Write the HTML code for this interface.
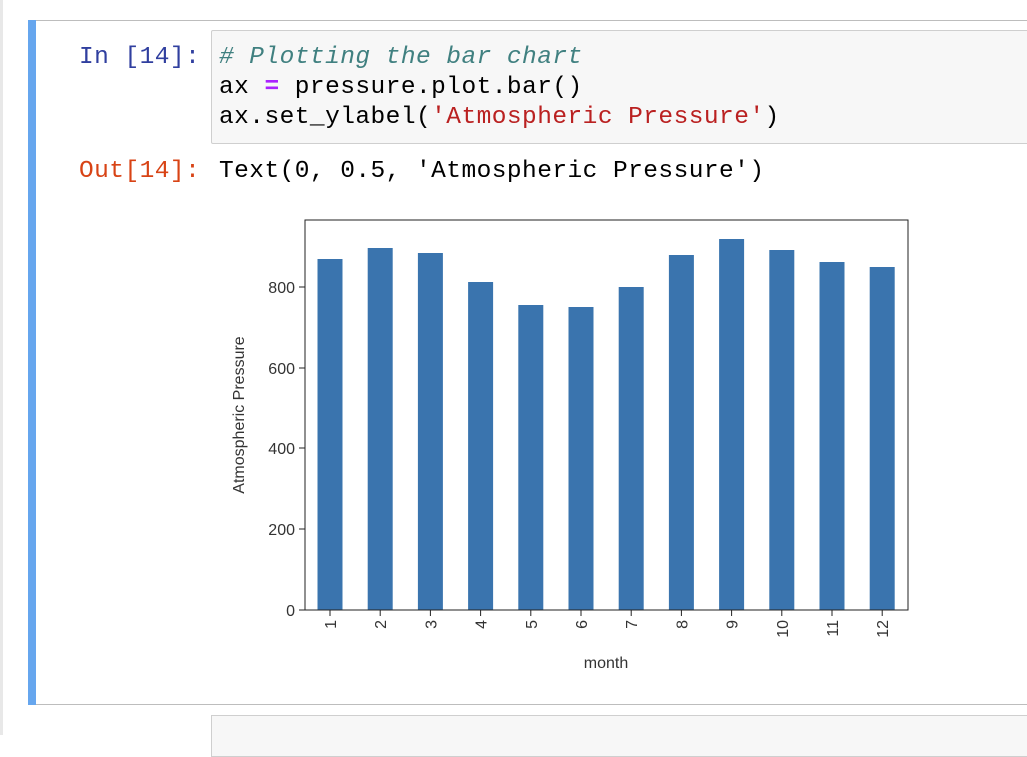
<!DOCTYPE html>
<html><head><meta charset="utf-8"><style>
body{margin:0;width:1027px;height:735px;background:#fff;position:relative;overflow:hidden;font-family:"Liberation Mono",monospace;}
.abs{position:absolute;white-space:pre;}
.code{font-size:24.5px;line-height:30px;letter-spacing:0.45px;}
</style></head><body>
<div class="abs" style="left:0;top:0;width:3px;height:735px;background:#e8e8e8"></div>
<div class="abs" style="left:28px;top:20px;width:1000px;height:1px;background:#bdbdbd"></div>
<div class="abs" style="left:28px;top:704px;width:1000px;height:1px;background:#bdbdbd"></div>
<div class="abs" style="left:28px;top:20px;width:8px;height:685px;background:#66a6ee"></div>
<div class="abs" style="left:211px;top:30px;width:830px;height:112px;background:#f7f7f7;border:1px solid #cfcfcf;border-radius:2px"></div>
<div class="abs code" style="left:79px;top:43px;color:#303f9f">In [14]:</div>
<div class="abs code" style="left:219px;top:43px;color:#000"><span style="color:#408080;font-style:italic"># Plotting the bar chart</span>
ax <span style="color:#aa22ff;font-weight:bold">=</span> pressure.plot.bar()
ax.set_ylabel(<span style="color:#ba2121">'Atmospheric Pressure'</span>)</div>
<div class="abs code" style="left:79px;top:157px;color:#d84315">Out[14]:</div>
<div class="abs code" style="left:219px;top:157px;color:#000">Text(0, 0.5, 'Atmospheric Pressure')</div>
<div class="abs" style="left:211px;top:715px;width:830px;height:40px;background:#f7f7f7;border:1px solid #cfcfcf"></div>
<svg class="abs" style="left:0;top:0" width="1027" height="735" font-family="Liberation Sans, sans-serif" font-size="16" fill="#333">
<g fill="#3a74ae">
<rect x="317.5" y="259" width="25" height="351"/>
<rect x="367.7" y="248" width="25" height="362"/>
<rect x="417.9" y="253" width="25" height="357"/>
<rect x="468.1" y="282" width="25" height="328"/>
<rect x="518.3" y="305" width="25" height="305"/>
<rect x="568.5" y="307" width="25" height="303"/>
<rect x="618.7" y="287" width="25" height="323"/>
<rect x="668.9" y="255" width="25" height="355"/>
<rect x="719.1" y="239" width="25" height="371"/>
<rect x="769.3" y="250" width="25" height="360"/>
<rect x="819.5" y="262" width="25" height="348"/>
<rect x="869.7" y="267" width="25" height="343"/>
</g>
<rect x="305" y="220" width="603" height="390" fill="none" stroke="#222" stroke-width="1"/>
<g stroke="#222">
<line x1="299" y1="610" x2="305" y2="610"/><line x1="299" y1="529" x2="305" y2="529"/>
<line x1="299" y1="448" x2="305" y2="448"/><line x1="299" y1="368" x2="305" y2="368"/>
<line x1="299" y1="287" x2="305" y2="287"/>
</g>
<g text-anchor="end">
<text x="295" y="616">0</text><text x="295" y="535">200</text><text x="295" y="454">400</text>
<text x="295" y="374">600</text><text x="295" y="293">800</text>
</g>
<g stroke="#222">
<line x1="330" y1="610" x2="330" y2="616"/><line x1="380.2" y1="610" x2="380.2" y2="616"/>
<line x1="430.4" y1="610" x2="430.4" y2="616"/><line x1="480.6" y1="610" x2="480.6" y2="616"/>
<line x1="530.8" y1="610" x2="530.8" y2="616"/><line x1="581" y1="610" x2="581" y2="616"/>
<line x1="631.2" y1="610" x2="631.2" y2="616"/><line x1="681.4" y1="610" x2="681.4" y2="616"/>
<line x1="731.6" y1="610" x2="731.6" y2="616"/><line x1="781.8" y1="610" x2="781.8" y2="616"/>
<line x1="832" y1="610" x2="832" y2="616"/><line x1="882.2" y1="610" x2="882.2" y2="616"/>
</g>
<g text-anchor="end">
<text transform="translate(336,620) rotate(-90)">1</text>
<text transform="translate(386.2,620) rotate(-90)">2</text>
<text transform="translate(436.4,620) rotate(-90)">3</text>
<text transform="translate(486.6,620) rotate(-90)">4</text>
<text transform="translate(536.8,620) rotate(-90)">5</text>
<text transform="translate(587,620) rotate(-90)">6</text>
<text transform="translate(637.2,620) rotate(-90)">7</text>
<text transform="translate(687.4,620) rotate(-90)">8</text>
<text transform="translate(737.6,620) rotate(-90)">9</text>
<text transform="translate(787.8,620) rotate(-90)">10</text>
<text transform="translate(838,620) rotate(-90)">11</text>
<text transform="translate(888.2,620) rotate(-90)">12</text>
</g>
<text x="606" y="668" text-anchor="middle">month</text>
<text transform="translate(244,415) rotate(-90)" text-anchor="middle">Atmospheric Pressure</text>
</svg>
</body></html>
